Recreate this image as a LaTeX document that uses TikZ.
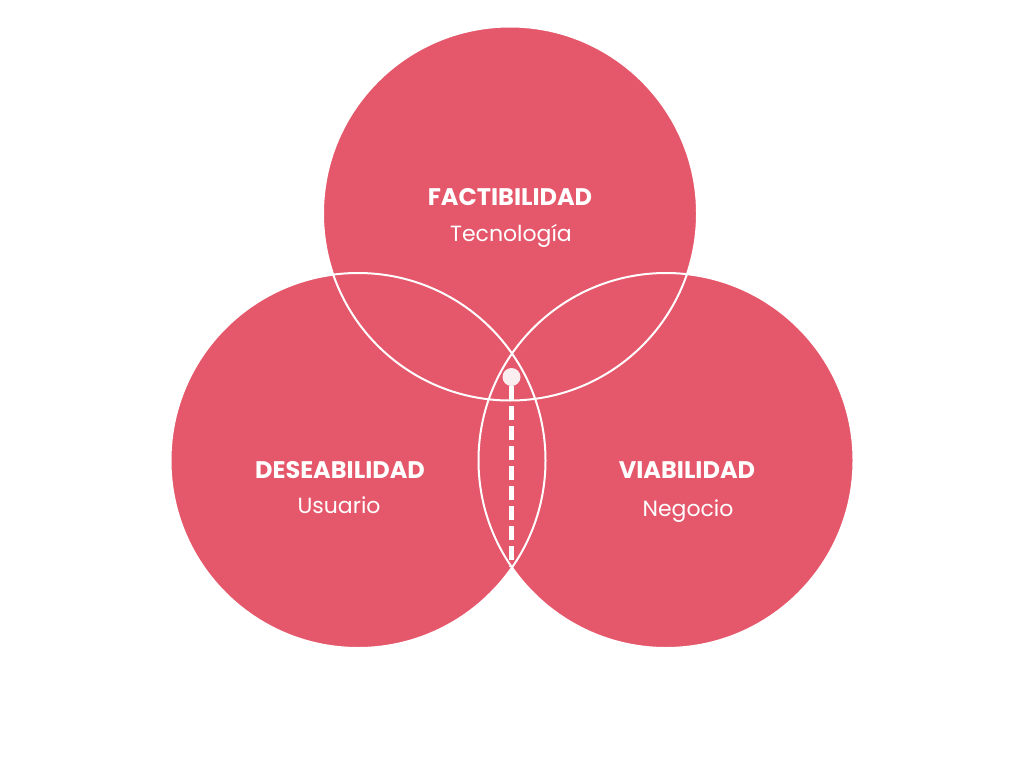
\documentclass[tikz,border=0pt]{standalone}
\usepackage{fontspec}
\setmainfont{Poppins}
\usepackage{xcolor}
\usepackage{tikz}
\definecolor{vennred}{RGB}{229,87,106}
\definecolor{dotwhite}{RGB}{251,238,240}

\begin{document}
\begin{tikzpicture}[x=1pt, y=-1pt]
    \useasboundingbox (0,0) rectangle (1024,768);
    % the three fills
    \node[circle, fill=vennred, inner sep=0pt, minimum size=374pt] (fact) at (510,213.5) {};
    \node[circle, fill=vennred, inner sep=0pt, minimum size=375pt] (dese) at (358,460.5) {};
    \node[circle, fill=vennred, inner sep=0pt, minimum size=375pt] (viab) at (666,460.5) {};
    % white outlines over the overlaps
    \draw[white, line width=2pt] (fact.center) circle (187);
    \draw[white, line width=2pt] (dese.center) circle (187.5);
    \draw[white, line width=2pt] (viab.center) circle (187.5);
    % labels
    \node[anchor=base, text=white, font=\fontsize{24}{28}\selectfont\bfseries] (factT) at (510,205) {FACTIBILIDAD};
    \node[anchor=base, text=white, font=\fontsize{22}{26}\selectfont] (factS) at (511,241) {Tecnología};
    \node[anchor=base, text=white, font=\fontsize{24}{28}\selectfont\bfseries] (deseT) at (340,478) {DESEABILIDAD};
    \node[anchor=base, text=white, font=\fontsize{22}{26}\selectfont] (deseS) at (339,513) {Usuario};
    \node[anchor=base, text=white, font=\fontsize{24}{28}\selectfont\bfseries] (viabT) at (687,478) {VIABILIDAD};
    \node[anchor=base, text=white, font=\fontsize{22}{26}\selectfont] (viabS) at (688,516) {Negocio};
    % centre marker
    \coordinate (tip) at (511.5,567);
    \node[circle, fill=dotwhite, inner sep=0pt, minimum size=18pt] (dot) at (511.5,377) {};
    \draw[white, line width=5pt, dash pattern=on 14pt off 6pt] (dot.south) -- (tip);
\end{tikzpicture}
\end{document}
